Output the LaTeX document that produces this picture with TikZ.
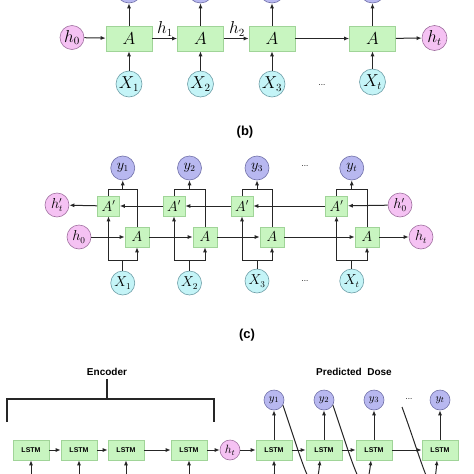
\documentclass[tikz,border=0pt]{standalone}
\usepackage{fontspec}
\setmainfont{Liberation Sans}
\usetikzlibrary{arrows.meta}
\definecolor{boxfill}{HTML}{C8F5C0}
\definecolor{boxdraw}{HTML}{A0D498}
\definecolor{hfill}{HTML}{F5C2F3}
\definecolor{hdraw}{HTML}{A070A0}
\definecolor{xfill}{HTML}{C4F4F7}
\definecolor{xdraw}{HTML}{6F9FA8}
\definecolor{yfill}{HTML}{B8B8F0}
\definecolor{ydraw}{HTML}{7070A8}
\tikzset{
  cell/.style={draw=boxdraw, fill=boxfill, line width=0.6pt, inner sep=0pt},
  hnode/.style={circle, draw=hdraw, fill=hfill, line width=0.6pt, inner sep=0pt},
  xnode/.style={circle, draw=xdraw, fill=xfill, line width=0.6pt, inner sep=0pt},
  ynode/.style={circle, draw=ydraw, fill=yfill, line width=0.6pt, inner sep=0pt},
  conn/.style={draw=black!85, line width=1pt},
  arr/.style={conn, -{Latex[length=5pt,width=4pt]}},
  lbl/.style={font=\bfseries},
  dots/.style={font=\fontsize{8}{9}\selectfont, inner sep=0pt}
}
\begin{document}
\begin{tikzpicture}[x=1pt,y=-1pt]
\useasboundingbox (0,0) rectangle (474,474);
\clip (0,0) rectangle (474,474);
% ---------- panel (a) ----------
\begin{scope}[every node/.append style={font=\fontsize{16}{18}\selectfont}]
\foreach \n/\x in {1/129,2/200.5,3/272,4/372.5}{
  \node[cell, minimum width=46pt, minimum height=25pt] (aa\n) at (\x,38.5) {$A$};
}
\node[hnode, minimum size=24pt] (ah0) at (72,37.5) {$h_0$};
\node[hnode, minimum size=25pt] (aht) at (434.5,38) {$h_t$};
\node[xnode, minimum size=26pt] (ax1) at (129,84) {$X_1$};
\node[xnode, minimum size=26pt] (ax2) at (200.5,84) {$X_2$};
\node[xnode, minimum size=26pt] (ax3) at (272,84) {$X_3$};
\node[xnode, minimum size=26pt] (ax4) at (372.5,82) {$X_t$};
\foreach \n/\x in {1/129,2/200.5,3/272,4/372.5}{
  \node[ynode, minimum size=26pt] (ay\n) at (\x,-10) {};
}
\node[dots] (adots) at (322,85) {...};
\node[inner sep=0pt] (lh1) at (165,29) {$h_1$};
\node[inner sep=0pt] (lh2) at (237,29) {$h_2$};
\end{scope}
\draw[arr] (ah0) -- (aa1);
\draw[arr] (aa1) -- (aa2);
\draw[arr] (aa2) -- (aa3);
\draw[arr] (aa3) -- (aa4);
\draw[arr] (aa4) -- (aht);
\foreach \n in {1,2,3,4}{
  \draw[arr] (ax\n) -- (aa\n);
  \draw[arr] (aa\n) -- (ay\n);
}
% ---------- label (b) ----------
\node[lbl, font=\fontsize{13}{15}\selectfont\bfseries] (labb) at (245,132) {(b)};
% ---------- panel (b) ----------
\begin{scope}[every node/.append style={font=\fontsize{13.5}{15}\selectfont}]
\foreach \n/\xp/\xa/\xm in {1/108.5/137/122.75,2/174/205/189.5,3/242/272/257,4/336.5/367/351.75}{
  \node[cell, minimum width=22pt, minimum height=20pt] (bp\n) at (\xp,206) {$A'$};
  \node[cell, minimum width=24pt, minimum height=20pt] (ba\n) at (\xa,237) {$A$};
  \node[ynode, minimum size=24pt] (by\n) at (\xm,168) {};
  \coordinate (bt\n) at (\xm,189);
  \coordinate (bb\n) at (\xm,260);
}
\node[xnode, minimum size=24pt] (bx1) at (122.75,283) {$X_1$};
\node[xnode, minimum size=24pt] (bx2) at (189.5,283) {$X_2$};
\node[xnode, minimum size=24pt] (bx3) at (257,281) {$X_3$};
\node[xnode, minimum size=24pt] (bx4) at (351.75,281) {$X_t$};
\node (ly1) at (by1) {$y_1$};
\node (ly2) at (by2) {$y_2$};
\node (ly3) at (by3) {$y_3$};
\node (ly4) at (by4) {$y_t$};
\node[hnode, minimum size=24pt] (bhpt) at (57,205) {$h'_t$};
\node[hnode, minimum size=24pt] (bh0) at (79,237) {$h_0$};
\node[hnode, minimum size=24pt] (bhp0) at (400,205) {$h'_0$};
\node[hnode, minimum size=24pt] (bht) at (421,237) {$h_t$};
\node[dots] (bdots1) at (305,166) {...};
\node[dots] (bdots2) at (305,281) {...};
\end{scope}
\foreach \n in {1,2,3,4}{
  \draw[conn] (bx\n) -- (bb\n);
  \draw[arr] (bb\n) -| (bp\n);
  \draw[arr] (bb\n) -| (ba\n);
  \draw[conn] (bp\n) |- (bt\n);
  \draw[conn] (ba\n) |- (bt\n);
  \draw[arr] (bt\n) -- (by\n);
}
\draw[arr] (bh0) -- (ba1);
\draw[arr] (ba1) -- (ba2);
\draw[arr] (ba2) -- (ba3);
\draw[arr] (ba3) -- (ba4);
\draw[arr] (ba4) -- (bht);
\draw[arr] (bhp0) -- (bp4);
\draw[arr] (bp4) -- (bp3);
\draw[arr] (bp3) -- (bp2);
\draw[arr] (bp2) -- (bp1);
\draw[arr] (bp1) -- (bhpt);
% ---------- label (c) ----------
\node[lbl, font=\fontsize{13}{15}\selectfont\bfseries] (labc) at (247,335) {(c)};
% ---------- panel (c) ----------
\node[lbl, font=\fontsize{10}{12}\selectfont\bfseries, inner sep=0pt] (enc) at (107,372) {Encoder};
\coordinate (encb) at (107,379);
\coordinate (encm) at (107,399);
\coordinate (encl) at (7,422);
\coordinate (encr) at (214,422);
\draw[draw=black!85, line width=1.3pt] (encb) -- (encm);
\draw[draw=black!85, line width=1.3pt] (encl) |- (encm) -| (encr);
\node[lbl, font=\fontsize{10}{12}\selectfont\bfseries, inner sep=0pt] (pred) at (354,372) {Predicted\ \ Dose};
\begin{scope}[every node/.append style={font=\fontsize{7}{8}\selectfont\bfseries}]
\foreach \n/\x in {1/31,2/79,3/126,4/189}{
  \node[cell, minimum width=36pt, minimum height=20pt] (ce\n) at (\x,450) {LSTM};
  \coordinate (cin\n) at (\x,480);
}
\foreach \n/\x in {1/274,2/324,3/374,4/440}{
  \node[cell, minimum width=36pt, minimum height=20pt] (cd\n) at (\x,450) {LSTM};
}
\end{scope}
\node[hnode, minimum size=20pt, font=\fontsize{12}{14}\selectfont] (cht) at (230,450) {$h_t$};
\begin{scope}[every node/.append style={font=\fontsize{11}{13}\selectfont}]
\node[ynode, minimum size=20pt] (cy1) at (274,400) {$y_1$};
\node[ynode, minimum size=20pt] (cy2) at (324,400) {$y_2$};
\node[ynode, minimum size=20pt] (cy3) at (374,400) {$y_3$};
\node[ynode, minimum size=20pt] (cy4) at (440,400) {$y_t$};
\end{scope}
\node[dots] (cdots) at (409,399) {...};
\node[xnode, minimum size=20pt] (cx1) at (274,484) {};
\foreach \n in {1,2,3,4}{
  \draw[arr] (cin\n) -- (ce\n);
  \draw[arr] (cd\n) -- (cy\n);
}
\draw[arr] (ce1) -- (ce2);
\draw[arr] (ce2) -- (ce3);
\draw[arr] (ce3) -- (ce4);
\draw[arr] (ce4) -- (cht);
\draw[arr] (cht) -- (cd1);
\draw[arr] (cd1) -- (cd2);
\draw[arr] (cd2) -- (cd3);
\draw[arr] (cd3) -- (cd4);
\draw[arr] (cx1) -- (cd1);
\coordinate (cs3) at (402,407);
\draw[arr] (cy1.-30) .. controls (305,470) and (315,510) .. ([xshift=-4pt]cd2.south);
\draw[arr] (cy2.-30) .. controls (355,470) and (365,510) .. ([xshift=-3pt]cd3.south);
\draw[arr] (cs3) .. controls (425,470) and (433,510) .. ([xshift=-3pt]cd4.south);
\end{tikzpicture}
\end{document}
